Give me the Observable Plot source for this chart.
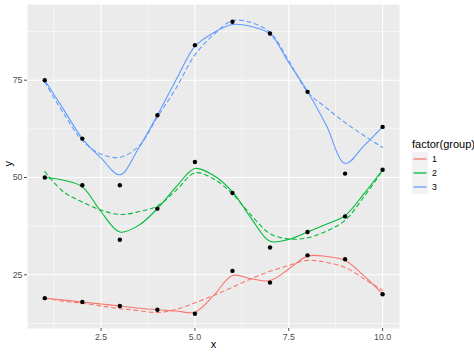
<!DOCTYPE html>
<html>
<head>
<meta charset="utf-8">
<script src="https://cdn.jsdelivr.net/npm/d3@7"></script>
<script src="https://cdn.jsdelivr.net/npm/@observablehq/plot@0.6"></script>
<style>
  body { margin: 0; background: #fff; font-family: "Liberation Sans", Arial, sans-serif; }
  #wrap { position: relative; width: 474px; height: 355px; }
  #legend { position: absolute; left: 412px; top: 137px; font-size: 11px; color: #000; }
  #legend .title { height: 15px; line-height: 15px; }
  #legend .row { display: flex; align-items: center; height: 14.2px; }
  #legend svg { display: block; margin-right: 4px; }
  #legend .lab { font-size: 8.8px; color: #000; }
</style>
</head>
<body>
<div id="wrap"><div id="chart"></div><div id="legend"></div></div>
<script>
// observed points
const xs = [1, 2, 3, 4, 5, 6, 7, 8, 9, 10];
const group1 = [19, 18, 17, 16, 15, 26, 23, 30, 29, 20];
const group2 = [50, 48, 34, 42, 54, 46, 32, 36, 40, 52];
const group3 = [75, 60, 48, 66, 84, 90, 87, 72, 51, 63];

// smoothed curves at these x positions
const sx = [1, 1.5, 2, 2.5, 3, 3.5, 4, 4.5, 5, 5.5, 6, 6.5, 7, 7.5, 8, 8.5, 9, 9.5, 10];
const solid1 = [19, 18.5, 18, 17.5, 17, 16.4, 16, 15.7, 15.4, 19.7, 24.8, 24, 23.5, 26.5, 29.8, 29.7, 28.7, 24.8, 20.1];
const dashed1 = [19, 18.2, 17.7, 17, 16.3, 15.8, 15.3, 16.1, 17.8, 19.7, 21.8, 24, 25.9, 27.4, 28.7, 28.2, 26.9, 24, 21];
const solid2 = [50, 49.3, 47.6, 41.2, 36, 37.7, 42, 47.6, 52.3, 50.5, 46.3, 39.5, 33.6, 34.1, 36, 38, 40.2, 45.8, 52];
const dashed2 = [51.5, 46.3, 43.7, 41.6, 40.5, 41.2, 42.7, 46.7, 51.2, 49.6, 45.8, 40.3, 35.6, 34.2, 34.5, 36.2, 39, 45, 51.8];
const solid3 = [75, 67.5, 60, 55, 50.7, 57.5, 66, 75.1, 83.7, 87.2, 89.3, 88.8, 86.9, 79.5, 72.1, 63.4, 53.6, 58.1, 63];
const dashed3 = [74.5, 66.5, 59.5, 56, 55.2, 58, 65.5, 73, 81.5, 86.7, 90.3, 89.8, 87.3, 80, 72, 67.9, 64.1, 60.8, 57.7];

const groups = ["1", "2", "3"];
const colors = ["#F8766D", "#00BA38", "#619CFF"];

const xTicks = [2.5, 5, 7.5, 10];
const xMinor = [1.25, 3.75, 6.25, 8.75];
const yTicks = [25, 50, 75];
const yMinor = [12.5, 37.5, 62.5, 87.5];

const points = [group1, group2, group3].flatMap((ys, g) => xs.map((x, i) => ({x, y: ys[i], group: groups[g]})));
const solids = [solid1, solid2, solid3].flatMap((ys, g) => sx.map((x, i) => ({x, y: ys[i], group: groups[g]})));
const dashes = [dashed1, dashed2, dashed3].flatMap((ys, g) => sx.map((x, i) => ({x, y: ys[i], group: groups[g]})));

const chart = Plot.plot({
  width: 474,
  height: 355,
  marginLeft: 27,
  marginRight: 75,
  marginTop: 4,
  marginBottom: 27,
  style: {fontFamily: "'Liberation Sans', Arial, sans-serif", background: "#fff"},
  x: {domain: [0.54, 10.45]},
  y: {domain: [11.2, 94.45]},
  color: {domain: groups, range: colors},
  marks: [
    Plot.frame({fill: "#EBEBEB", stroke: "none"}),
    Plot.gridX(xMinor, {stroke: "#fff", strokeOpacity: 1, strokeWidth: 0.55}),
    Plot.gridY(yMinor, {stroke: "#fff", strokeOpacity: 1, strokeWidth: 0.55}),
    Plot.gridX(xTicks, {stroke: "#fff", strokeOpacity: 1, strokeWidth: 1.1}),
    Plot.gridY(yTicks, {stroke: "#fff", strokeOpacity: 1, strokeWidth: 1.1}),
    Plot.axisX(xTicks, {tickFormat: d => d.toFixed(1), tickSize: 3, tickPadding: 2, fontSize: 8.8, color: "#4D4D4D", label: null}),
    Plot.axisY(yTicks, {tickSize: 3, tickPadding: 2, fontSize: 8.8, color: "#4D4D4D", label: null}),
    Plot.line(dashes, {x: "x", y: "y", z: "group", stroke: "group", strokeWidth: 1.1, strokeDasharray: "4,3.5", curve: "catmull-rom"}),
    Plot.line(solids, {x: "x", y: "y", z: "group", stroke: "group", strokeWidth: 1.1, curve: "catmull-rom"}),
    Plot.dot(points, {x: "x", y: "y", r: 2.2, fill: "#000", stroke: "none"}),
    Plot.text(["x"], {frameAnchor: "bottom", dy: 19, fontSize: 11, fill: "#000"}),
    Plot.text(["y"], {frameAnchor: "left", dx: -19, rotate: -90, fontSize: 11, fill: "#000"})
  ]
});
document.getElementById("chart").appendChild(chart);

const legend = document.getElementById("legend");
legend.innerHTML = '<div class="title">factor(group)</div>' +
  groups.map((g, i) => `<div class="row"><svg width="16" height="14"><rect width="16" height="14" fill="#F2F2F2"/><line x1="1.5" x2="14.5" y1="7" y2="7" stroke="${colors[i]}" stroke-width="1.3"/></svg><div class="lab">${g}</div></div>`).join("");
</script>
</body>
</html>
